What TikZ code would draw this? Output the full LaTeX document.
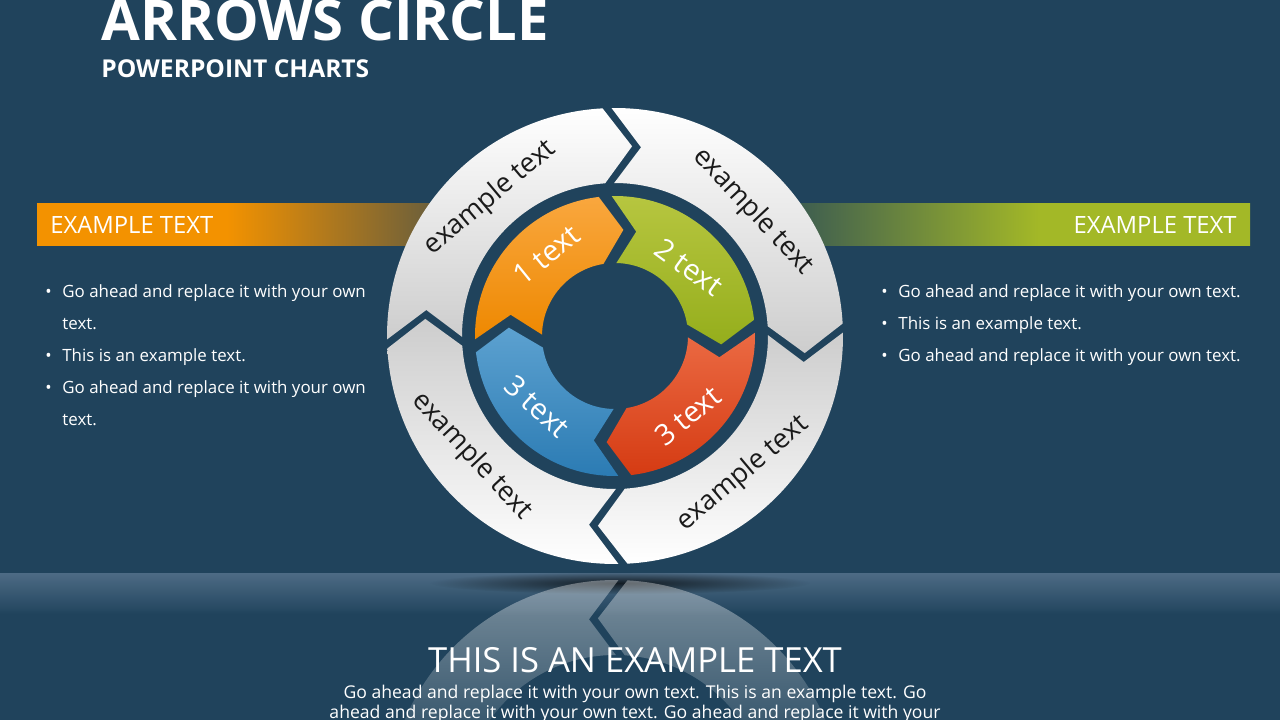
\documentclass[tikz,border=0pt]{standalone}
\usepackage{fontspec}
\setmainfont{Open Sans}
\usetikzlibrary{fadings}

\definecolor{bg}{HTML}{20435C}
\definecolor{band}{HTML}{4D6B85}
\definecolor{barorange}{HTML}{F39200}
\definecolor{bargreen}{HTML}{A3B827}
\definecolor{ringgray}{HTML}{CDCDCD}
\definecolor{ringtext}{HTML}{1A1A1A}
\definecolor{orangetop}{HTML}{F9A73E}
\definecolor{orangebot}{HTML}{EE8800}
\definecolor{greentop}{HTML}{B7C640}
\definecolor{greenbot}{HTML}{95AE1C}
\definecolor{redtop}{HTML}{EB6A43}
\definecolor{redbot}{HTML}{D53B13}
\definecolor{bluetop}{HTML}{5CA1D0}
\definecolor{bluebot}{HTML}{2B7BB3}

\pgfdeclarehorizontalshading{orangebar}{100bp}{color(0bp)=(barorange); color(25bp)=(barorange); color(48bp)=(barorange); color(75bp)=(barorange!30!bg); color(100bp)=(barorange!30!bg)}
\pgfdeclarehorizontalshading{greenbar}{100bp}{color(0bp)=(bargreen!20!bg); color(25bp)=(bargreen!20!bg); color(52bp)=(bargreen); color(100bp)=(bargreen)}

\tikzfading[name=fadeup, top color=transparent!100, bottom color=transparent!35]
\tikzfading[name=softspot, inner color=transparent!0, outer color=transparent!100]

% one ring piece, clockwise from #1 to #1-90
% #2 outer radius, #3 inner radius, #4 tip offset, #5 gap
\newcommand{\arrowseg}[5]{%
  ({#1-#5/#2}:#2) arc[start angle={#1-#5/#2}, end angle={#1-90+#5/#2}, radius=#2]
  -- ({#1-90-#4+2*#5/(#2+#3)}:{(#2+#3)/2})
  -- ({#1-90+#5/#3}:#3) arc[start angle={#1-90+#5/#3}, end angle={#1-#5/#3}, radius=#3]
  -- ({#1-#4-2*#5/(#2+#3)}:{(#2+#3)/2}) -- cycle}

\tikzset{
  lbl/.style={inner sep=0pt, text=white},
  bulletline/.style={lbl, anchor=base west, font=\fontsize{8.45}{10}\selectfont},
  footline/.style={lbl, anchor=base, font=\fontsize{8.8}{10}\selectfont},
  ringlbl/.style={inner sep=0pt, text=ringtext, font=\fontsize{13.5}{14}\selectfont},
  arrowlbl/.style={inner sep=0pt, text=white, font=\fontsize{14.5}{15}\selectfont},
  upperseg/.style={top color=white, bottom color=ringgray},
  lowerseg/.style={top color=ringgray, bottom color=white}
}

\begin{document}
\begin{tikzpicture}[x=0.5pt, y=0.5pt]
  \useasboundingbox (0,0) rectangle (1280,720);
  \clip (0,0) rectangle (1280,720);
  \fill[bg] (0,0) rectangle (1280,720);

  % side bars
  \shade[shading=orangebar] (37,475) rectangle (450,517);
  \shade[shading=greenbar] (790,475) rectangle (1250,517);

  % floor
  \shade[top color=band, bottom color=bg] (0,105) rectangle (1280,147);
  \fill[black, opacity=0.7, path fading=softspot] (620,137) ellipse [x radius=190, y radius=11];

  % reflection
  \begin{scope}[shift={(615,-88)}, yscale=-1]
    \fill[white, fill opacity=0.35] \arrowseg{2}{228}{153}{8.5}{258};
    \fill[white, fill opacity=0.35] \arrowseg{-88}{228}{153}{8.5}{258};
  \end{scope}
  \fill[bg, path fading=fadeup] (0,0) rectangle (1280,110);

  % the circle
  \begin{scope}[shift={(615,384)}]
    \path[upperseg] \arrowseg{182}{228}{153}{8.5}{258};
    \path[upperseg] \arrowseg{92}{228}{153}{8.5}{258};
    \path[lowerseg] \arrowseg{2}{228}{153}{8.5}{258};
    \path[lowerseg] \arrowseg{-88}{228}{153}{8.5}{258};
    \path[top color=orangetop, bottom color=orangebot] \arrowseg{184}{140}{73}{12}{372};
    \path[top color=greentop, bottom color=greenbot] \arrowseg{94}{140}{73}{12}{372};
    \path[top color=redtop, bottom color=redbot] \arrowseg{4}{140}{73}{12}{372};
    \path[top color=bluetop, bottom color=bluebot] \arrowseg{-86}{140}{73}{12}{372};

    \node[ringlbl, rotate=40] (ul) at (132:186) {example text};
    \node[ringlbl, rotate=-47] (ur) at (42:186) {example text};
    \node[ringlbl, rotate=40] (lr) at (-47:188) {example text};
    \node[ringlbl, rotate=-47] (ll) at (220:187) {example text};
    \node[arrowlbl, rotate=39] (t1) at (130:106) {1 text};
    \node[arrowlbl, rotate=-36] (t2) at (43:101) {2 text};
    \node[arrowlbl, rotate=39] (t3) at (-47.6:108) {3 text};
    \node[arrowlbl, rotate=-42] (t4) at (222:105) {3 text};
  \end{scope}

  % titles
  \node[lbl, anchor=base west, font=\bfseries\fontsize{28.1}{28}\selectfont] (title) at (101,680) {ARROWS CIRCLE};
  \node[lbl, anchor=base west, font=\bfseries\fontsize{12.3}{12}\selectfont] (subtitle) at (101,643) {POWERPOINT CHARTS};
  \node[lbl, anchor=base west, font=\fontsize{11.9}{12}\selectfont] (lefthead) at (50,487) {EXAMPLE TEXT};
  \node[lbl, anchor=base east, font=\fontsize{11.9}{12}\selectfont] (righthead) at (1237,487) {EXAMPLE TEXT};

  % left list
  \node[bulletline] (lm1) at (45,423) {\textbullet};
  \node[bulletline] (l1) at (62,423) {Go ahead and replace it with your own};
  \node[bulletline] (l1b) at (62,391) {text.};
  \node[bulletline] (lm2) at (45,359) {\textbullet};
  \node[bulletline] (l2) at (62,359) {This is an example text.};
  \node[bulletline] (lm3) at (45,327) {\textbullet};
  \node[bulletline] (l3) at (62,327) {Go ahead and replace it with your own};
  \node[bulletline] (l3b) at (62,295) {text.};

  % right list
  \node[bulletline] (rm1) at (881,423) {\textbullet};
  \node[bulletline] (r1) at (898,423) {Go ahead and replace it with your own text.};
  \node[bulletline] (rm2) at (881,391) {\textbullet};
  \node[bulletline] (r2) at (898,391) {This is an example text.};
  \node[bulletline] (rm3) at (881,359) {\textbullet};
  \node[bulletline] (r3) at (898,359) {Go ahead and replace it with your own text.};

  % footer
  \node[lbl, anchor=base, font=\fontsize{17.3}{17}\selectfont] (foottitle) at (635,48) {THIS IS AN EXAMPLE TEXT};
  \node[footline] (foot1) at (635,22) {Go ahead and replace it with your own text. This is an example text. Go};
  \node[footline] (foot2) at (635,2) {ahead and replace it with your own text. Go ahead and replace it with your};
\end{tikzpicture}
\end{document}
